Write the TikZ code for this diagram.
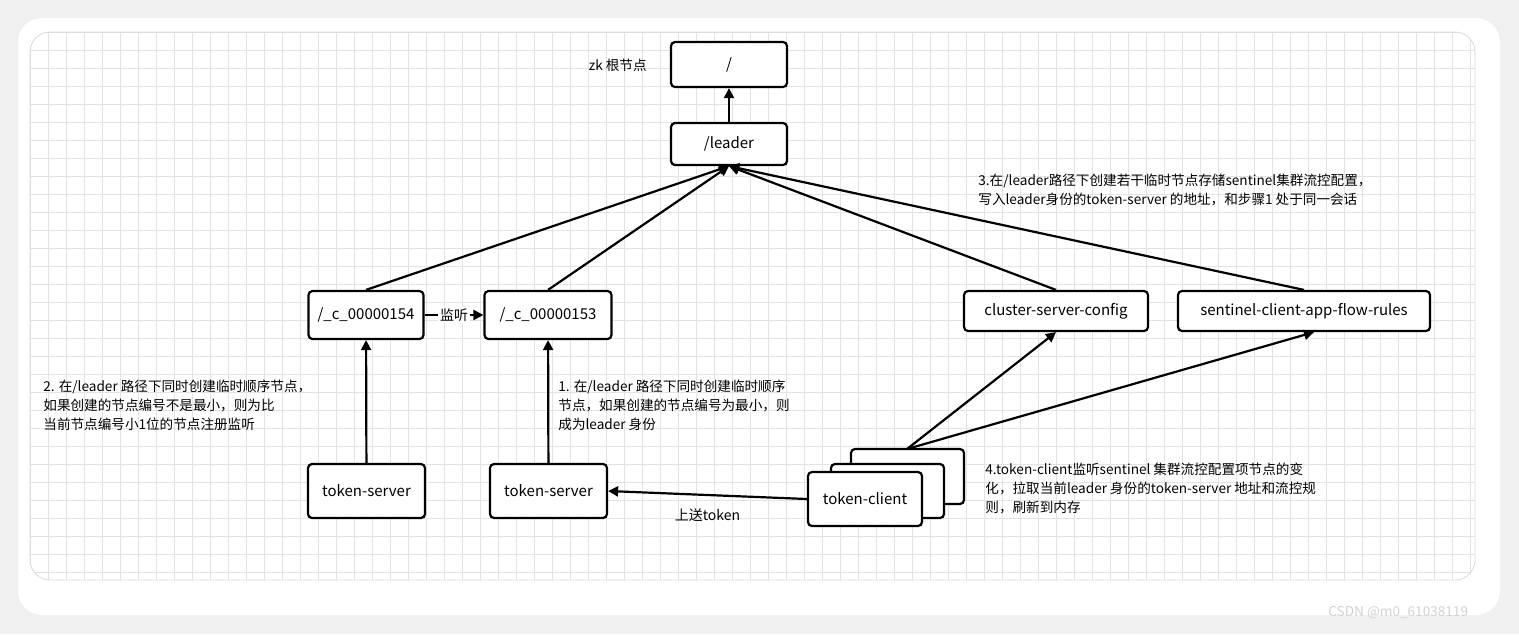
\documentclass[tikz,border=0pt]{standalone}
\usepackage{fontspec}
\setmainfont{Noto Sans CJK SC}
\usetikzlibrary{arrows.meta}
\begin{document}
\begin{tikzpicture}[x=0.5pt,y=-0.5pt,
  box/.style={draw,line width=1.1pt,rounded corners=2pt,fill=white,inner sep=0pt,font=\fontsize{7.5}{9}\selectfont},
  arr/.style={line width=1.1pt,-{Triangle[length=5pt,width=5pt]}},
  note/.style={font=\fontsize{6.8}{9.5}\selectfont,align=left,inner sep=0pt}]
\useasboundingbox (0,0) rectangle (1519,634);
\fill[gray!12] (0,0) rectangle (1519,634);
\fill[white,rounded corners=12pt] (18,18) rectangle (1500,615);
\fill[white,rounded corners=10pt] (30,32) rectangle (1475,580);
\begin{scope}
\clip[rounded corners=10pt] (30,32) rectangle (1475,580);
\foreach \i in {0,...,80} \draw[gray!22,line width=0.4pt] (30+18*\i,32) -- (30+18*\i,580);
\foreach \i in {0,...,31} \draw[gray!22,line width=0.4pt] (30,32+18*\i) -- (1475,32+18*\i);
\end{scope}
\draw[gray!30,rounded corners=10pt] (30,32) rectangle (1475,580);

\node[box,minimum width=58pt,minimum height=22.5pt] (root) at (729,64.5) {/};
\node[box,minimum width=58pt,minimum height=21pt] (leader) at (729,144) {/leader};
\node[box,minimum width=57.5pt,minimum height=24pt] (c154) at (366,315) {/\_c\_00000154};
\node[box,minimum width=63.5pt,minimum height=24pt] (c153) at (548,315) {/\_c\_00000153};
\node[box,minimum width=92pt,minimum height=20pt] (csc) at (1056,311) {cluster-server-config};
\node[box,minimum width=126pt,minimum height=20pt] (scafr) at (1304,311) {sentinel-client-app-flow-rules};
\node[box,minimum width=58.5pt,minimum height=27pt] (ts1) at (366.5,491) {token-server};
\node[box,minimum width=58.5pt,minimum height=27pt] (ts2) at (548.5,491) {token-server};
\node[box,minimum width=56.5pt,minimum height=27.5pt] (tcb) at (907.5,476.5) {};
\node[box,minimum width=56.5pt,minimum height=27pt] (tcm) at (887.5,491) {};
\node[box,minimum width=57pt,minimum height=27pt] (tc) at (865,499) {token-client};

\draw[arr] (leader) -- (root);
\draw[arr] (c154.north) -- (leader.south);
\draw[arr] (c153.north) -- (leader.south);
\draw[arr] (csc.north) -- (leader.south);
\draw[arr] (scafr.north) -- (leader.south);
\draw[arr] (c154) -- node[fill=white,inner sep=1pt,font=\fontsize{7}{8}\selectfont]{监听} (c153);
\draw[arr] (ts1) -- (c154);
\draw[arr] (ts2) -- (c153);
\draw[arr] (tc.west) -- node[below=3pt,font=\fontsize{7}{8}\selectfont]{上送token} (ts2.east);
\coordinate (tctop) at (907,449);
\draw[arr] (tctop) -- (csc.south);
\draw[arr] (tctop) -- ([xshift=5pt]scafr.south);

\node[note,anchor=east] (zk) at (647,65) {zk 根节点};
\node[note,anchor=north west] (n3) at (978,174) {3.在/leader路径下创建若干临时节点存储sentinel集群流控配置，\\ 写入leader身份的token-server 的地址，和步骤1 处于同一会话};
\node[note,anchor=north west] (n2) at (43,380) {2. 在/leader 路径下同时创建临时顺序节点，\\如果创建的节点编号不是最小，则为比\\当前节点编号小1位的节点注册监听};
\node[note,anchor=north west] (n1) at (558,380) {1. 在/leader 路径下同时创建临时顺序\\节点，如果创建的节点编号为最小，则\\成为leader 身份};
\node[note,anchor=north west] (n4) at (985,463) {4.token-client监听sentinel 集群流控配置项节点的变\\化，拉取当前leader 身份的token-server 地址和流控规\\则，刷新到内存};
\node[note,anchor=west,text=gray!35] (wm) at (1328,613) {CSDN @m0\_61038119};
\end{tikzpicture}
\end{document}
